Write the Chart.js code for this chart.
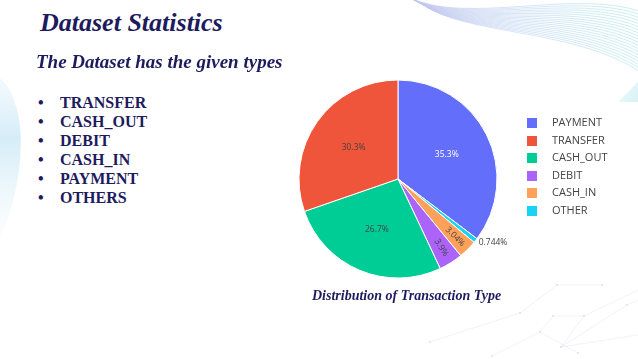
<!DOCTYPE html>
<html>
<head>
<meta charset="utf-8">
<script src="https://cdn.jsdelivr.net/npm/chart.js@4.4.1/dist/chart.umd.min.js"></script>
<style>
  html, body { margin: 0; padding: 0; width: 638px; height: 359px; overflow: hidden; background: #ffffff; }
  #stage { position: relative; width: 638px; height: 359px; }
  #deco { position: absolute; left: 0; top: 0; width: 638px; height: 359px; z-index: 0; }
  .serif { position: absolute; font-family: "Liberation Serif", "Times New Roman", serif; font-weight: bold; color: #1d1b5e; white-space: nowrap; z-index: 2; }
  #title { left: 40px; top: 10px; font-size: 26px; line-height: 26px; font-style: italic; }
  #subtitle { left: 36px; top: 52px; font-size: 19px; line-height: 19px; font-style: italic; }
  #bullets { left: 38px; top: 93px; font-size: 16px; line-height: 19px; margin: 0; padding: 0; list-style: none; }
  #bullets li { position: relative; padding-left: 22px; height: 19px; }
  #bullets li::before { content: "\2022"; position: absolute; left: 0; top: 0; }
  #caption { left: 312px; top: 289px; font-size: 14px; line-height: 14px; font-style: italic; }
  #chartBox { position: absolute; left: 280px; top: 70px; width: 358px; height: 220px; z-index: 1; }
</style>
</head>
<body>
<div id="stage">
  <svg id="deco" width="638" height="359" viewBox="0 0 638 359" xmlns="http://www.w3.org/2000/svg">
    <defs>
      <linearGradient id="waveGrad" x1="400" y1="0" x2="638" y2="0" gradientUnits="userSpaceOnUse">
        <stop offset="0" stop-color="#8e8fe0"/>
        <stop offset="0.5" stop-color="#8fb4e6"/>
        <stop offset="1" stop-color="#5fd0d4"/>
      </linearGradient>
      <linearGradient id="blobGrad" x1="0" y1="70" x2="0" y2="240" gradientUnits="userSpaceOnUse">
        <stop offset="0" stop-color="#e6f4fb" stop-opacity="0.4"/>
        <stop offset="0.4" stop-color="#c4e5f5" stop-opacity="0.7"/>
        <stop offset="1" stop-color="#d9eef8" stop-opacity="0.05"/>
      </linearGradient>
      <linearGradient id="cornerGrad" x1="600" y1="80" x2="638" y2="100" gradientUnits="userSpaceOnUse">
        <stop offset="0" stop-color="#e3f6f8" stop-opacity="0.2"/>
        <stop offset="1" stop-color="#cdeff2" stop-opacity="0.8"/>
      </linearGradient>
    </defs>
    <g id="waves" fill="none" stroke="url(#waveGrad)" stroke-width="0.6" opacity="0.55"></g>
    <path d="M0,78 C14,90 24,120 20,160 C17,195 8,220 0,238 Z" fill="url(#blobGrad)"/>
    <path d="M618,102 L638,82 L638,102 Z" fill="url(#cornerGrad)"/>
    <g stroke="#d4d4f0" stroke-width="0.5" opacity="0.6" fill="none">
      <path d="M430,342 L520,313 L557,285 L602,285"/>
      <path d="M553,316 L584,316 L561,347"/>
      <path d="M540,332 L553,316"/>
      <path d="M540,332 L578,353"/>
      <path d="M561,347 L627,305 L638,300"/>
      <path d="M492,356 L540,332"/>
      <path d="M584,316 L638,290"/>
      <path d="M561,347 L638,335"/>
    </g>
    <g fill="#cfcfee" opacity="0.7">
      <circle cx="520" cy="313" r="0.9"/><circle cx="557" cy="285" r="0.9"/><circle cx="602" cy="285" r="0.9"/>
      <circle cx="627" cy="305" r="0.9"/><circle cx="553" cy="316" r="0.9"/><circle cx="584" cy="316" r="0.9"/>
      <circle cx="540" cy="332" r="0.9"/><circle cx="561" cy="347" r="0.9"/><circle cx="578" cy="353" r="0.9"/>
      <circle cx="492" cy="356" r="0.9"/><circle cx="430" cy="342" r="0.9"/>
    </g>
  </svg>

  <div id="title" class="serif">Dataset Statistics</div>
  <div id="subtitle" class="serif">The Dataset has the given types</div>
  <ul id="bullets" class="serif">
    <li>TRANSFER</li>
    <li>CASH_OUT</li>
    <li>DEBIT</li>
    <li>CASH_IN</li>
    <li>PAYMENT</li>
    <li>OTHERS</li>
  </ul>
  <div id="chartBox"><canvas id="pie"></canvas></div>
  <div id="caption" class="serif">Distribution of Transaction Type</div>
</div>

<script>
// ---- data (legend order) ----
const categories = ['PAYMENT', 'TRANSFER', 'CASH_OUT', 'DEBIT', 'CASH_IN', 'OTHER'];
const shares = [35.3, 30.3, 26.7, 3.9, 3.04, 0.744];
const sliceColors = ['#636efa', '#ef553b', '#00cc96', '#ab63fa', '#ffa15a', '#19d3f3'];
// order in which the slices run clockwise from 12 o'clock
const drawOrder = ['PAYMENT', 'OTHER', 'CASH_IN', 'DEBIT', 'CASH_OUT', 'TRANSFER'];

// ---- decorative waves (background only) ----
(function () {
  const g = document.getElementById('waves');
  const n = 20;
  let d = '';
  for (let i = 0; i < n; i++) {
    const x0 = 408 + i * 0.8, y0 = -3 + i * 0.4;
    const c1x = 465, c1y = 26 + i * 0.5;
    const c2x = 575, c2y = -12 + i * 2.1;
    const x3 = 642, y3 = 12 + i * 3.2;
    d += `<path d="M${x0},${y0} C${c1x},${c1y} ${c2x},${c2y} ${x3},${y3}"/>`;
  }
  g.innerHTML = d;
})();

// ---- build dataset in drawing order ----
const order = drawOrder.map(n => categories.indexOf(n));
const pieLabels = order.map(i => categories[i]);
const pieValues = order.map(i => shares[i]);
const pieColors = order.map(i => sliceColors[i]);

const LEGEND_FONT = '"Open Sans", sans-serif';
const LEGEND_SIZE = 11;
const LEGEND_PAD = 6.5;
const SWATCH_SLOT = 29;

const swatchCache = {};
function swatch(color) {
  if (!swatchCache[color]) {
    const c = document.createElement('canvas');
    c.width = 10; c.height = 10;
    const x = c.getContext('2d');
    x.fillStyle = color;
    x.fillRect(0, 0, 10, 10);
    swatchCache[color] = c;
  }
  return swatchCache[color];
}

function fmtPct(p) {
  return parseFloat(p.toPrecision(3)).toString() + '%';
}
function isLight(hex) {
  const h = hex.replace('#', '');
  const r = parseInt(h.substr(0, 2), 16), g = parseInt(h.substr(2, 2), 16), b = parseInt(h.substr(4, 2), 16);
  return (r * 299 + g * 587 + b * 114) / 1000 >= 128;
}

// measure legend width so the legend column lands right of the pie
const mctx = document.createElement('canvas').getContext('2d');
mctx.font = LEGEND_SIZE + 'px ' + LEGEND_FONT;
const maxText = Math.max(...categories.map(t => mctx.measureText(t).width));
const legendWidth = LEGEND_PAD + SWATCH_SLOT + LEGEND_SIZE / 2 + maxText;
const areaRight = 231; // chart-area right edge inside the canvas
const rightPad = Math.max(0, 358 - areaRight - legendWidth - 10);

const sliceLabels = {
  id: 'sliceLabels',
  afterDatasetsDraw(chart) {
    const ctx = chart.ctx;
    const meta = chart.getDatasetMeta(0);
    const ds = chart.data.datasets[0];
    const total = ds.data.reduce((a, b) => a + b, 0);
    ctx.save();
    ctx.font = '8.5px "Open Sans", sans-serif';
    meta.data.forEach((arc, i) => {
      const p = arc.getProps(['x', 'y', 'startAngle', 'endAngle', 'outerRadius'], true);
      const mid = (p.startAngle + p.endAngle) / 2;
      const frac = ds.data[i] / total;
      const txt = fmtPct(frac * 100);
      const col = isLight(ds.backgroundColor[i]) ? '#444444' : '#ffffff';
      if (frac > 0.1) {
        const r = p.outerRadius * 0.55;
        ctx.fillStyle = col;
        ctx.textAlign = 'center';
        ctx.textBaseline = 'middle';
        ctx.fillText(txt, p.x + Math.cos(mid) * r, p.y + Math.sin(mid) * r);
      } else if (frac > 0.02) {
        const r = p.outerRadius * 0.82;
        let rot = mid;
        while (rot > Math.PI) rot -= 2 * Math.PI;
        while (rot < -Math.PI) rot += 2 * Math.PI;
        if (rot > Math.PI / 2) rot -= Math.PI;
        if (rot < -Math.PI / 2) rot += Math.PI;
        ctx.save();
        ctx.translate(p.x + Math.cos(mid) * r, p.y + Math.sin(mid) * r);
        ctx.rotate(rot);
        ctx.fillStyle = col;
        ctx.textAlign = 'center';
        ctx.textBaseline = 'middle';
        ctx.fillText(txt, 0, 0);
        ctx.restore();
      } else {
        const r = p.outerRadius + 4;
        ctx.fillStyle = '#444444';
        ctx.textAlign = 'left';
        ctx.textBaseline = 'middle';
        ctx.fillText(txt, p.x + Math.cos(mid) * r, p.y + Math.sin(mid) * r);
      }
    });
    ctx.restore();
  }
};

new Chart(document.getElementById('pie'), {
  type: 'pie',
  data: {
    labels: pieLabels,
    datasets: [{
      data: pieValues,
      backgroundColor: pieColors,
      borderColor: '#ffffff',
      borderWidth: 1,
      radius: 99,
      offset: 0,
      hoverOffset: 0,
      clip: false
    }]
  },
  options: {
    responsive: true,
    maintainAspectRatio: false,
    animation: false,
    events: [],
    layout: { padding: { left: 5, top: 41, bottom: 43, right: rightPad } },
    plugins: {
      tooltip: { enabled: false },
      legend: {
        position: 'right',
        align: 'start',
        labels: {
          usePointStyle: true,
          pointStyleWidth: SWATCH_SLOT,
          padding: LEGEND_PAD,
          color: '#444444',
          font: { family: LEGEND_FONT, size: LEGEND_SIZE },
          generateLabels(chart) {
            const meta = chart.getDatasetMeta(0);
            return categories.map(name => {
              const i = chart.data.labels.indexOf(name);
              const style = meta.controller.getStyle(i);
              return {
                text: name,
                fillStyle: style.backgroundColor,
                strokeStyle: 'rgba(0,0,0,0)',
                lineWidth: 0,
                fontColor: '#444444',
                pointStyle: swatch(style.backgroundColor),
                hidden: !chart.getDataVisibility(i),
                index: i
              };
            });
          }
        }
      }
    }
  },
  plugins: [sliceLabels]
});
</script>
</body>
</html>
